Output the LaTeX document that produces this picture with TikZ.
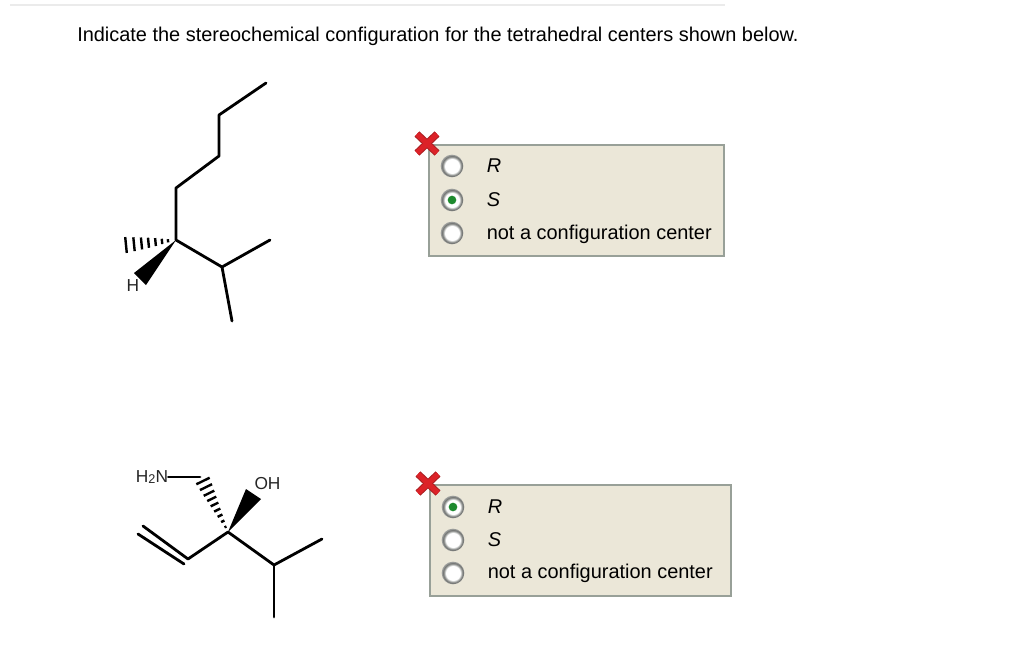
\documentclass[tikz,border=0pt]{standalone}
\usepackage{fontspec}
\setmainfont{Liberation Sans}
\usetikzlibrary{calc,positioning}
\definecolor{boxfill}{HTML}{EBE7D8}
\definecolor{boxline}{HTML}{98A098}
\definecolor{crossred}{HTML}{DC2228}
\definecolor{crossdark}{HTML}{A81F22}
\definecolor{dotgreen}{HTML}{1E8A2E}
\definecolor{ringlight}{HTML}{C4C6C4}
\definecolor{ringdark}{HTML}{6E706E}
\definecolor{ringedge}{HTML}{A2A4A2}
\pgfdeclareradialshading{radioring}{\pgfpoint{0bp}{0bp}}{color(0bp)=(white); color(16bp)=(white); color(18bp)=(ringlight); color(21.5bp)=(ringdark); color(25bp)=(ringedge); color(50bp)=(ringedge)}
\tikzset{
    bond/.style={line width=2.1pt,line cap=round,line join=round},
    hashbond/.style={line width=1.8pt},
    choicebox/.style={draw=boxline,line width=1.5pt,fill=boxfill},
    radio/.style={circle,shade,shading=radioring,minimum size=17pt,inner sep=0pt},
    radiodot/.style={circle,fill=dotgreen,minimum size=6.5pt,inner sep=0pt},
    choice/.style={anchor=west,inner sep=0pt,font=\fontsize{14.95}{18}\selectfont},
    atomlabel/.style={inner sep=0pt,text=black!85,font=\fontsize{13}{15}\selectfont},
}
\begin{document}
\begin{tikzpicture}[x=0.75pt,y=-0.75pt]
    \useasboundingbox (0,0) rectangle (1024,650);
    % top strip
    \coordinate (stripl) at (10,5);
    \coordinate (stripr) at (725,5);
    \draw[black!8,line width=0.9pt] (stripl) -- (stripr);
    \node[anchor=west,inner sep=0pt,font=\fontsize{14.95}{18}\selectfont] (title) at (77,36.5) {Indicate the stereochemical configuration for the tetrahedral centers shown below.};

    % first molecule
    \coordinate (a1) at (266,83);
    \coordinate (a2) at (219,115);
    \coordinate (a3) at (219,156);
    \coordinate (a4) at (176,188);
    \coordinate (a5) at (176,240);
    \coordinate (a6) at (222,267);
    \coordinate (a7) at (270,240);
    \coordinate (a8) at (232,321);
    \coordinate (w1) at (134,273);
    \coordinate (w2) at (146,285);
    \coordinate (h1) at (126,245);
    \draw[bond] (a1) -- (a2) -- (a3) -- (a4) -- (a5) -- (a6) -- (a7);
    \draw[bond] (a6) -- (a8);
    \fill (a5) -- (w1) -- (w2) -- cycle;
    \foreach \t/\h in {0.16/1.2pt,0.28/2pt,0.41/3pt,0.55/3.8pt,0.69/4.5pt,0.84/5.2pt,1/6pt}
        \draw[hashbond] ($(a5)!\t!(h1)!\h!90:(a5)$) -- ($(a5)!\t!(h1)!\h!-90:(a5)$);
    \node[atomlabel] (hyd) at (133,286) {H};

    % second molecule
    \coordinate (b1) at (228,532);
    \coordinate (b2) at (188,559);
    \coordinate (b3) at (274,565);
    \coordinate (b4) at (322,539);
    \coordinate (b5) at (274,617);
    \coordinate (v1) at (143,526);
    \coordinate (v2) at (138,534);
    \coordinate (v3) at (184,564);
    \coordinate (w3) at (246,489);
    \coordinate (w4) at (261,499);
    \coordinate (h2) at (203,481);
    \coordinate (n1) at (200,477);
    \draw[bond] (v1) -- (b2) -- (b1) -- (b3) -- (b4);
    \draw[bond] (b3) -- (b5);
    \draw[bond] (v2) -- (v3);
    \fill (b1) -- (w3) -- (w4) -- cycle;
    \foreach \t/\h in {0.1/0.8pt,0.21/1.4pt,0.32/2pt,0.43/2.6pt,0.54/3.2pt,0.65/3.8pt,0.76/4.4pt,0.88/5pt,1/5.6pt}
        \draw[hashbond] ($(b1)!\t!(h2)!\h!90:(b1)$) -- ($(b1)!\t!(h2)!\h!-90:(b1)$);
    \node[atomlabel] (nh) at (152,477) {H\raisebox{-0.2ex}{\fontsize{9.5}{10}\selectfont 2}N};
    \node[atomlabel] (oh) at (267.5,484) {OH};
    \draw[bond] (nh.east) -- (n1);

    % first answer box
    \draw[choicebox] (429,145) rectangle (724,256);
    \node[radio] (r1) at (452,166) {};
    \node[radio] (s1) at (452,200) {};
    \node[radio] (n1b) at (452,233) {};
    \node[radiodot] at (s1) {};
    \node[choice] at (486.5,166) {\itshape R};
    \node[choice] at (486.5,200) {\itshape S};
    \node[choice] at (486.5,234) {not a configuration center};
    \foreach \c/\w in {crossdark/5.4pt,crossred/3.9pt}{
        \draw[\c,line width=\w] (417,134) -- (437,153);
        \draw[\c,line width=\w] (437,134) -- (417,153);
    }

    % second answer box
    \draw[choicebox] (430,485) rectangle (731,596);
    \node[radio] (r2) at (453,507) {};
    \node[radio] (s2) at (453,540) {};
    \node[radio] (n2b) at (453,573) {};
    \node[radiodot] at (r2) {};
    \node[choice] at (487.5,507) {\itshape R};
    \node[choice] at (487.5,540) {\itshape S};
    \node[choice] at (487.5,573.5) {not a configuration center};
    \foreach \c/\w in {crossdark/5.4pt,crossred/3.9pt}{
        \draw[\c,line width=\w] (418,474) -- (438,493);
        \draw[\c,line width=\w] (438,474) -- (418,493);
    }
\end{tikzpicture}
\end{document}
